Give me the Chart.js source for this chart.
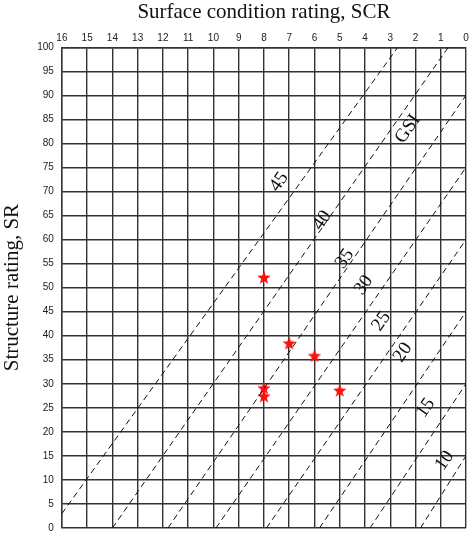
<!DOCTYPE html>
<html>
<head>
<meta charset="utf-8">
<script src="https://cdn.jsdelivr.net/npm/chart.js@4"></script>
<style>
body{margin:0;background:#fff}
#wrap{width:474px;height:542px}
</style>
</head>
<body>
<div id="wrap"><canvas id="gsiChart"></canvas></div>
<script>
// GSI lines, endpoints (SCR, SR)
let gsiValues = [45,40,35,30,25,20,15,10]
let lineStartSCR = [16,14,11.8,9.9,7.9,5.8,3.8,1.8]
let lineStartSR = [3,0,0,0,0,0,0,0]
let lineEndSCR = [2.7,0.7,0,0,0,0,0,0]
let lineEndSR = [100,100,90,75,60,45,30,15]

// label positions of the line numbers
let labelSCR = [7.4,5.7,4.8,4.05,3.35,2.5,1.6,0.85]
let labelSR = [72,64,56,50.5,43,36.5,25,14]

// measured points
let pointSCR = [8,7,6,5,8,8]
let pointSR = [52,38.3,35.7,28.5,29,27.3]

let xTicks = [16,15,14,13,12,11,10,9,8,7,6,5,4,3,2,1,0]
let yTicks = [0,5,10,15,20,25,30,35,40,45,50,55,60,65,70,75,80,85,90,95,100]

function makeStar(size,color){
let c = document.createElement("canvas")
c.width = size
c.height = size
let g = c.getContext("2d")
let r = size/2, ri = r*0.42
g.beginPath()
for(let i=0;i<10;i++){
let a = -Math.PI/2 + i*Math.PI/5
let rr = i%2 ? ri : r
g.lineTo(r + rr*Math.cos(a), r + rr*Math.sin(a))
}
g.closePath()
g.fillStyle = color
g.fill()
return c
}

let datasets = gsiValues.map((v,i)=>({
type:"line",
data:[{x:lineStartSCR[i],y:lineStartSR[i]},{x:lineEndSCR[i],y:lineEndSR[i]}],
borderColor:"#111",
borderWidth:1,
borderDash:[6,4],
pointRadius:0,
fill:false
}))

datasets.push({
type:"scatter",
data:pointSCR.map((x,i)=>({x:x,y:pointSR[i]})),
pointStyle:makeStar(14,"#ff1010"),
pointRadius:7
})

let labelPlugin = {
id:"gsiLabels",
afterDatasetsDraw(chart){
let ctx = chart.ctx
let xs = chart.scales.x, ys = chart.scales.y
let dx = xs.getPixelForValue(lineEndSCR[3]) - xs.getPixelForValue(lineStartSCR[3])
let dy = ys.getPixelForValue(lineEndSR[3]) - ys.getPixelForValue(lineStartSR[3])
let ang = Math.atan2(dy,dx)
ctx.save()
ctx.fillStyle = "#111"
ctx.font = "19px 'Liberation Serif'"
ctx.textAlign = "center"
ctx.textBaseline = "middle"
gsiValues.forEach((v,i)=>{
ctx.save()
ctx.translate(xs.getPixelForValue(labelSCR[i]), ys.getPixelForValue(labelSR[i]))
ctx.rotate(ang)
ctx.fillText(String(v),0,0)
ctx.restore()
})
ctx.save()
ctx.translate(xs.getPixelForValue(2.3), ys.getPixelForValue(83))
ctx.rotate(ang)
ctx.fillText("GSI",0,0)
ctx.restore()
ctx.restore()
}
}

new Chart(document.getElementById("gsiChart"),{
data:{datasets:datasets},
options:{
responsive:true,
maintainAspectRatio:false,
animation:false,
layout:{padding:{right:6,bottom:4}},
plugins:{legend:{display:false},tooltip:{enabled:false}},
scales:{
x:{
type:"linear",
position:"top",
reverse:true,
min:0,max:16,
afterBuildTicks(s){s.ticks = xTicks.map(v=>({value:v}))},
ticks:{font:{size:10,family:"'Liberation Sans'"},color:"#222",maxRotation:0,autoSkip:false,padding:3},
grid:{color:"#333",lineWidth:1.4,drawTicks:false},
border:{color:"#333",width:1.4},
title:{display:true,text:"Surface condition rating, SCR",font:{size:21,family:"'Liberation Serif'"},color:"#111",padding:{top:0,bottom:4}}
},
y:{
type:"linear",
min:0,max:100,
afterBuildTicks(s){s.ticks = yTicks.map(v=>({value:v}))},
ticks:{font:{size:10,family:"'Liberation Sans'"},color:"#222",autoSkip:false,padding:8},
grid:{color:"#333",lineWidth:1.4,drawTicks:false},
border:{color:"#333",width:1.4},
title:{display:true,text:"Structure rating, SR",font:{size:21,family:"'Liberation Serif'"},color:"#111",padding:{top:0,bottom:4}}
}
}
},
plugins:[labelPlugin]
})
</script>
</body>
</html>
